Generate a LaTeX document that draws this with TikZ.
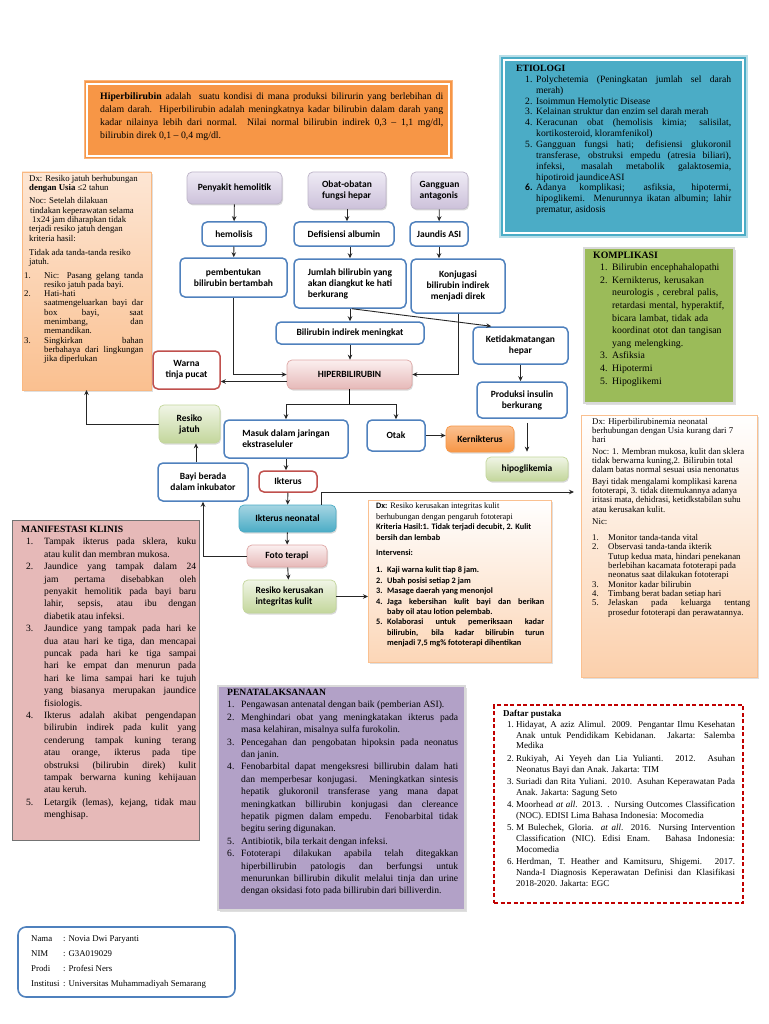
\documentclass[tikz,border=0pt]{standalone}
\usepackage{fontspec}
\setmainfont{Liberation Serif}
\newfontfamily\flowfont{Carlito}
\usetikzlibrary{positioning,arrows.meta,shadows,calc}
\tolerance=9000 \hbadness=10000 \hfuzz=3pt
\hyphenpenalty=10000 \exhyphenpenalty=10000

\definecolor{boxblue}{HTML}{4F81BD}
\definecolor{boxred}{HTML}{C0504D}
\definecolor{deforange}{HTML}{F79646}
\definecolor{etioblue}{HTML}{4BACC6}
\definecolor{kompgreen}{HTML}{9BBB59}
\definecolor{penapurple}{HTML}{B2A1C7}
\definecolor{manipink}{HTML}{E6B9B8}
\definecolor{peach}{HTML}{FAC090}
\definecolor{peachlight}{HTML}{FDE6D4}
\definecolor{lilatop}{HTML}{EFEBF5}
\definecolor{lilabot}{HTML}{CCC1DA}
\definecolor{pinktop}{HTML}{FBEFEF}
\definecolor{pinkbot}{HTML}{E6B9B8}
\definecolor{greentop}{HTML}{F0F5E6}
\definecolor{greenbot}{HTML}{C3D69B}
\definecolor{tealtop}{HTML}{A5D5E2}
\definecolor{dashred}{HTML}{C00000}

\newcommand{\sansb}[1]{{\flowfont\bfseries #1}}
\newenvironment{nlist}[2]{%
  \begin{list}{\arabic{enumi}.}{\usecounter{enumi}%
    \setlength{\leftmargin}{#2}\setlength{\labelsep}{0pt}%
    \setlength{\labelwidth}{\dimexpr#2-#1\relax}%
    \setlength{\itemsep}{0pt}\setlength{\parsep}{0pt}%
    \setlength{\topsep}{0pt}\setlength{\partopsep}{0pt}%
    \def\makelabel##1{##1\hfil}}}%
  {\end{list}}

\tikzset{
  arr/.style={-{Stealth[length=5pt,width=4.5pt]}, line width=0.9pt, black!85},
  flowbox/.style={draw=boxblue, line width=1.5pt, rounded corners=5pt, fill=white,
    align=center, inner sep=2pt, font=\flowfont\bfseries\fontsize{9.5}{11}\selectfont},
  redbox/.style={flowbox, draw=boxred},
  shadebox/.style={flowbox, line width=0.7pt,
    drop shadow={opacity=0.3, shadow xshift=1pt, shadow yshift=-1.5pt}},
  lilabox/.style={shadebox, draw=lilabot!80!gray, top color=lilatop, bottom color=lilabot},
  pinkbox/.style={shadebox, draw=boxred!50, top color=pinktop, bottom color=pinkbot},
  greenbox/.style={shadebox, draw=greenbot, top color=greentop, bottom color=greenbot},
  tealbox/.style={shadebox, draw=etioblue, top color=tealtop, bottom color=etioblue},
  kernbox/.style={shadebox, draw=deforange, top color=peach, bottom color=deforange},
  panel/.style={anchor=north west, inner sep=0pt, outer sep=0pt},
  paneltext/.style={anchor=north west, inner sep=0pt, align=justify},
  panelshadow/.style={drop shadow={opacity=0.25, shadow xshift=2pt, shadow yshift=-2pt}}
}

\begin{document}
\begin{tikzpicture}[x=1pt,y=-1pt]
\fill[white] (0,0) rectangle (768,1024);
\useasboundingbox (0,0) rectangle (768,1024);

% definisi
\node[panel, fill=deforange, draw=deforange!70, line width=1pt,
  minimum width=368pt, minimum height=78pt] (def) at (84,81) {};
\draw[white, line width=1.3pt] ([shift={(3pt,-3pt)}]def.north west) rectangle ([shift={(-3pt,3pt)}]def.south east);
\node[paneltext, text width=343pt, font=\fontsize{9.8}{13}\selectfont,
  below right=12pt and 16pt of def.north west] (deftext)
  {\textbf{Hiperbilirubin} adalah\ \ suatu kondisi di mana produksi bilirurin yang berlebihan di \linebreak
   dalam darah. Hiperbilirubin adalah meningkatnya kadar bilirubin dalam darah yang \linebreak
   kadar nilainya lebih dari normal. Nilai normal bilirubin indirek 0,3 – 1,1 mg/dl, \linebreak
   bilirubin direk 0,1 – 0,4 mg/dl.};

% etiologi
\node[panel, fill=etioblue, draw=etioblue!40, line width=2pt,
  minimum width=247pt, minimum height=181pt] (etio) at (500,56) {};
\draw[white, line width=1.5pt] ([shift={(4pt,-4pt)}]etio.north west) rectangle ([shift={(-4pt,4pt)}]etio.south east);
\node[paneltext, text width=215pt, font=\fontsize{9.6}{10.85}\selectfont,
  below right=9pt and 16pt of etio.north west] (etiotext)
  {\textbf{ETIOLOGI}
   \begin{nlist}{9pt}{20pt}
   \item Polychetemia (Peningkatan jumlah sel darah \linebreak merah)
   \item Isoimmun Hemolytic Disease
   \item Kelainan struktur dan enzim sel darah merah
   \item Keracunan obat (hemolisis kimia; salisilat, \linebreak kortikosteroid, kloramfenikol)
   \item Gangguan fungsi hati; defisiensi glukoronil \linebreak transferase, obstruksi empedu (atresia biliari), \linebreak infeksi, masalah metabolik galaktosemia, \linebreak hipotiroid jaundiceASI
   \item[\sansb{6.}] Adanya komplikasi; asfiksia, hipotermi, \linebreak hipoglikemi. Menurunnya ikatan albumin; lahir \linebreak prematur, asidosis
   \end{nlist}};

% komplikasi
\node[panel, panelshadow, fill=kompgreen, draw=black!15, line width=1.5pt,
  minimum width=150pt, minimum height=155pt] (komp) at (584,248) {};
\node[paneltext, align=left, text width=138pt, font=\fontsize{9.8}{12.6}\selectfont,
  below right=3.5pt and 9pt of komp.north west] (komptext)
  {\textbf{KOMPLIKASI}
   \begin{nlist}{7pt}{19pt}
   \item Bilirubin encephahalopathi
   \item Kernikterus, kerusakan\\ neurologis , cerebral palis,\\ retardasi mental, hyperaktif,\\ bicara lambat, tidak ada\\ koordinat otot dan tangisan\\ yang melengking.
   \item Asfiksia
   \item Hipotermi
   \item Hipoglikemi
   \end{nlist}};

% dx resiko jatuh
\node[panel, panelshadow, top color=peachlight, bottom color=peach, draw=peach!80!deforange,
  line width=0.8pt, minimum width=129pt, minimum height=218pt] (dxl) at (22,172) {};
\node[paneltext, text width=119pt, font=\fontsize{8.8}{9.3}\selectfont,
  below right=3pt and 2pt of dxl.north west] (dxltext)
  {\leftskip=5pt Dx: Resiko jatuh berhubungan\\
   \textbf{dengan Usia} ≤2 tahun\par\vspace{4pt}
   Noc: Setelah dilakuan\\
   \hspace*{1pt}tindakan keperawatan selama\\
   \hspace*{3pt}1x24 jam diharapkan tidak\\
   terjadi resiko jatuh dengan\\
   kriteria hasil:\par\vspace{5pt}
   Tidak ada tanda-tanda resiko\\ jatuh.\par\vspace{4pt}\leftskip=0pt
   \begin{nlist}{0pt}{20pt}
   \item Nic: Pasang gelang tanda \linebreak resiko jatuh pada bayi.
   \item Hati-hati\\ saatmengeluarkan bayi dar \linebreak box bayi, saat \linebreak menimbang, dan \linebreak memandikan.
   \item Singkirkan bahan \linebreak berbahaya dari lingkungan \linebreak jika diperlukan
   \end{nlist}};

% dx hiperbilirubinemia
\node[panel, panelshadow, top color=white, bottom color=peach!75, draw=peach,
  line width=0.8pt, minimum width=176pt, minimum height=262pt] (dxr) at (581,415) {};
\node[paneltext, text width=158pt, font=\fontsize{8.8}{9.3}\selectfont,
  below right=3pt and 11pt of dxr.north west] (dxrtext)
  {Dx: Hiperbilirubinemia neonatal\\ berhubungan dengan Usia kurang dari 7\\ hari\par\vspace{2pt}
   Noc: 1. Membran mukosa, kulit dan sklera\\ tidak berwarna kuning,2. Bilirubin total\\ dalam batas normal sesuai usia nenonatus\par\vspace{2pt}
   Bayi tidak mengalami komplikasi karena\\ fototerapi, 3. tidak ditemukannya adanya\\ iritasi mata, dehidrasi, ketidkstabilan suhu\\ atau kerusakan kulit.\par\vspace{3pt}
   Nic:\par\vspace{7pt}
   \begin{nlist}{0pt}{16pt}
   \item Monitor tanda-tanda vital
   \item Observasi tanda-tanda ikterik\\ Tutup kedua mata, hindari penekanan\\ berlebihan kacamata fototerapi pada\\ neonatus saat dilakukan fototerapi
   \item Monitor kadar bilirubin
   \item Timbang berat badan setiap hari
   \item Jelaskan pada keluarga tentang \linebreak prosedur fototerapi dan perawatannya.
   \end{nlist}};

% dx kerusakan kulit
\node[panel, panelshadow, top color=white, bottom color=peach!65, draw=peach,
  line width=0.8pt, minimum width=183pt, minimum height=162pt] (dxk) at (368,500) {};
\node[paneltext, text width=168pt, font=\fontsize{8.3}{10.4}\selectfont,
  below right=3pt and 8pt of dxk.north west] (dxktext)
  {\sansb{Dx:} Resiko kerusakan integritas kulit\\
   berhubungan dengan pengaruh fototerapi\\
   \sansb{Kriteria Hasil:1. Tidak terjadi decubit, 2. Kulit}\\
   \sansb{bersih dan lembab}\par\vspace{5pt}
   \sansb{Intervensi:}\par\vspace{7pt}
   {\flowfont\bfseries
   \begin{nlist}{0pt}{11pt}
   \item Kaji warna kulit tiap 8 jam.
   \item Ubah posisi setiap 2 jam
   \item Masage daerah yang menonjol
   \item Jaga kebersihan kulit bayi dan berikan \linebreak baby oil atau lotion pelembab.
   \item Kolaborasi untuk pemeriksaan kadar \linebreak bilirubin, bila kadar bilirubin turun \linebreak menjadi 7,5 mg\% fototerapi dihentikan
   \end{nlist}}};

% manifestasi klinis
\node[panel, fill=manipink, draw=black!55, line width=0.8pt,
  minimum width=187pt, minimum height=320pt] (mani) at (12,520) {};
\node[paneltext, text width=175pt, font=\fontsize{9.6}{12.4}\selectfont,
  below right=6pt and 9pt of mani.north west] (manitext)
  {\textbf{MANIFESTASI KLINIS}
   \begin{nlist}{5pt}{23pt}
   \item Tampak ikterus pada sklera, kuku \linebreak atau kulit dan membran mukosa.
   \item Jaundice yang tampak dalam 24 \linebreak jam pertama disebabkan oleh \linebreak penyakit hemolitik pada bayi baru \linebreak lahir, sepsis, atau ibu dengan \linebreak diabetik atau infeksi.
   \item Jaundice yang tampak pada hari ke \linebreak dua atau hari ke tiga, dan mencapai \linebreak puncak pada hari ke tiga sampai \linebreak hari ke empat dan menurun pada \linebreak hari ke lima sampai hari ke tujuh \linebreak yang biasanya merupakan jaundice \linebreak fisiologis.
   \item Ikterus adalah akibat pengendapan \linebreak bilirubin indirek pada kulit yang \linebreak cenderung tampak kuning terang \linebreak atau orange, ikterus pada tipe \linebreak obstruksi (bilirubin direk) kulit \linebreak tampak berwarna kuning kehijauan \linebreak atau keruh.
   \item Letargik (lemas), kejang, tidak mau \linebreak menghisap.
   \end{nlist}};

% penatalaksanaan
\node[panel, panelshadow, fill=penapurple, draw=black!15, line width=1.5pt,
  minimum width=247pt, minimum height=224pt] (pena) at (218,686) {};
\node[paneltext, text width=231pt, font=\fontsize{9.6}{12.4}\selectfont,
  below right=3pt and 9pt of pena.north west] (penatext)
  {\textbf{PENATALAKSANAAN}
   \begin{nlist}{0pt}{14pt}
   \item Pengawasan antenatal dengan baik (pemberian ASI).
   \item Menghindari obat yang meningkatakan ikterus pada \linebreak masa kelahiran, misalnya sulfa furokolin.
   \item Pencegahan dan pengobatan hipoksin pada neonatus \linebreak dan janin.
   \item Fenobarbital dapat mengeksresi billirubin dalam hati \linebreak dan memperbesar konjugasi. Meningkatkan sintesis \linebreak hepatik glukoronil transferase yang mana dapat \linebreak meningkatkan billirubin konjugasi dan clereance \linebreak hepatik pigmen dalam empedu. Fenobarbital tidak \linebreak begitu sering digunakan.
   \item Antibiotik, bila terkait dengan infeksi.
   \item Fototerapi dilakukan apabila telah ditegakkan \linebreak hiperbillirubin patologis dan berfungsi untuk \linebreak menurunkan billirubin dikulit melalui tinja dan urine \linebreak dengan oksidasi foto pada billirubin dari billiverdin.
   \end{nlist}};

% daftar pustaka
\node[panel, draw=dashred, line width=1.1pt, dash pattern=on 4pt off 2.5pt,
  minimum width=249pt, minimum height=198pt] (pust) at (494,705) {};
\node[paneltext, text width=232pt, font=\fontsize{9}{10.8}\selectfont,
  below right=5pt and 9pt of pust.north west] (pusttext)
  {\textbf{Daftar pustaka}
   \begin{nlist}{4pt}{13pt}\setlength{\itemsep}{1.5pt}
   \item Hidayat, A aziz Alimul. 2009. Pengantar Ilmu Kesehatan \linebreak Anak untuk Pendidikam Kebidanan. Jakarta: Salemba \linebreak Medika
   \item Rukiyah, Ai Yeyeh dan Lia Yulianti. 2012. Asuhan \linebreak Neonatus Bayi dan Anak. Jakarta: TIM
   \item Suriadi dan Rita Yuliani. 2010. Asuhan Keperawatan Pada \linebreak Anak. Jakarta: Sagung Seto
   \item Moorhead \textit{at all}. 2013. . Nursing Outcomes Classification \linebreak (NOC). EDISI Lima Bahasa Indonesia: Mocomedia
   \item M Bulechek, Gloria. \textit{at all}. 2016. Nursing Intervention \linebreak Classification (NIC). Edisi Enam. Bahasa Indonesia: \linebreak Mocomedia
   \item Herdman, T. Heather and Kamitsuru, Shigemi. 2017. \linebreak Nanda-I Diagnosis Keperawatan Definisi dan Klasifikasi \linebreak 2018-2020. Jakarta: EGC
   \end{nlist}};

% identitas
\node[panel, draw=boxblue, line width=1.6pt, rounded corners=8pt, fill=white,
  minimum width=217pt, minimum height=70pt] (ident) at (18,927) {};
\node[anchor=north west, inner sep=0pt, align=left, font=\fontsize{8.8}{15.3}\selectfont,
  below right=8pt and 13pt of ident.north west] (identtext)
  {\makebox[32pt][l]{Nama}: Novia Dwi Paryanti\\
   \makebox[32pt][l]{NIM}: G3A019029\\
   \makebox[32pt][l]{Prodi}: Profesi Ners\\
   \makebox[32pt][l]{Institusi}: Universitas Muhammadiyah Semarang};

% alur
\node[lilabox, minimum width=95pt, minimum height=32pt] (pen) at (234.5,188) {Penyakit hemolitik};
\node[lilabox, minimum width=78pt, minimum height=37pt, align=left] (obat) at (347,190.5) {Obat-obatan\\fungsi hepar};
\node[lilabox, minimum width=57pt, minimum height=37pt, align=left] (gang) at (439.5,190.5) {Gangguan\\antagonis};
\node[flowbox, minimum width=64pt, minimum height=24pt] (hemo) at (234,234) {hemolisis};
\node[flowbox, minimum width=100pt, minimum height=24pt] (defi) at (344,234) {Defisiensi albumin};
\node[flowbox, minimum width=58pt, minimum height=24pt] (jaund) at (439,234) {Jaundis ASI};
\node[flowbox, minimum width=107pt, minimum height=39pt] (bentuk) at (233.5,277.5) {pembentukan\\bilirubin bertambah};
\node[flowbox, minimum width=112pt, minimum height=49pt, align=left] (jumlah) at (350,283.5) {Jumlah bilirubin yang\\akan diangkut ke hati\\berkurang};
\node[flowbox, minimum width=94pt, minimum height=54pt] (konj) at (458,286) {Konjugasi\\bilirubin indirek\\menjadi direk};
\node[flowbox, minimum width=148pt, minimum height=22pt] (indirek) at (350,333) {Bilirubin indirek meningkat};
\node[pinkbox, minimum width=125pt, minimum height=29pt] (hiper) at (349.5,374.5) {HIPERBILIRUBIN};
\node[redbox, minimum width=67pt, minimum height=38pt] (warna) at (186.5,370) {Warna\\tinja pucat};
\node[flowbox, minimum width=95pt, minimum height=37pt] (keti) at (520.5,345.5) {Ketidakmatangan\\hepar};
\node[flowbox, minimum width=90pt, minimum height=36pt] (prod) at (522,400) {Produksi insulin\\berkurang};
\node[greenbox, minimum width=61pt, minimum height=38pt] (rjatuh) at (189.5,424) {Resiko\\jatuh};
\node[flowbox, minimum width=124pt, minimum height=38pt, align=left] (masuk) at (286,439) {Masuk dalam jaringan\\ekstraseluler};
\node[flowbox, minimum width=58pt, minimum height=31pt] (otak) at (396,435.5) {Otak};
\node[kernbox, minimum width=68pt, minimum height=26pt] (kern) at (480,439) {Kernikterus};
\node[greenbox, minimum width=82pt, minimum height=24pt] (hipo) at (527,469) {hipoglikemia};
\node[flowbox, minimum width=90pt, minimum height=38pt] (bayi) at (203,482) {Bayi berada\\dalam inkubator};
\node[redbox, minimum width=58pt, minimum height=21pt] (ikt) at (288,481.5) {Ikterus};
\node[tealbox, minimum width=97pt, minimum height=27pt] (iktn) at (287.5,518.5) {Ikterus neonatal};
\node[pinkbox, minimum width=80pt, minimum height=22pt] (foto) at (287,556) {Foto terapi};
\node[greenbox, minimum width=93pt, minimum height=33pt, align=left] (rkul) at (289.5,596.5) {Resiko kerusakan\\integritas kulit};

% panah
\draw[arr] (pen) -- (hemo);
\draw[arr] (hemo) -- (bentuk);
\draw[arr] (obat.south) -- (obat.south |- defi.north);
\draw[arr] (defi.south -| jumlah.north) -- (jumlah.north);
\draw[arr] (gang) -- (jaund);
\draw[arr] (jaund.south) -- (jaund.south |- konj.north);
\draw[arr] (jumlah.south) -- (jumlah.south |- indirek.north);
\draw[arr] ([xshift=2pt]jumlah.south) -- ([xshift=19pt]keti.north west);
\draw[arr] (indirek.south) -- (indirek.south |- hiper.north);
\draw[arr] (bentuk.south) |- (hiper.west);
\draw[arr] (konj.south) |- (hiper.east);
\draw[arr] ([yshift=-7pt]hiper.west) -- ([yshift=-7pt]hiper.west -| warna.east);
\coordinate (fork) at ($(hiper.south)!0.5!(hiper.south |- masuk.north)$);
\draw (hiper.south) -- (fork);
\draw[arr] (fork) -| (masuk.north);
\draw[arr] (fork) -| (otak.north);
\draw[arr] (otak.east) -- (otak.east -| kern.west);
\draw[arr] (keti.south) -- (keti.south |- prod.north);
\draw[arr, shorten <=4pt, shorten >=5pt] (prod.south -| hipo.north) -- (hipo.north);
\draw[arr] (masuk.south) -- (masuk.south |- ikt.north);
\draw[arr] (ikt) -- (iktn);
\draw[arr] (iktn) -- (foto);
\draw[arr] (foto) -- (rkul);
\draw[arr] (foto.west) -| (bayi.south);
\draw[arr] ([xshift=-7pt]bayi.north) -- ([xshift=-7pt]bayi.north |- rjatuh.south);
\draw[arr] (rjatuh.west) -| (dxl.south);
\draw[arr] (rkul.east) -- (rkul.east -| dxk.west);
\draw[arr, shorten >=7pt] ([xshift=-15pt]iktn.north east) |- ([yshift=-77pt]dxr.north west);
\end{tikzpicture}
\end{document}
